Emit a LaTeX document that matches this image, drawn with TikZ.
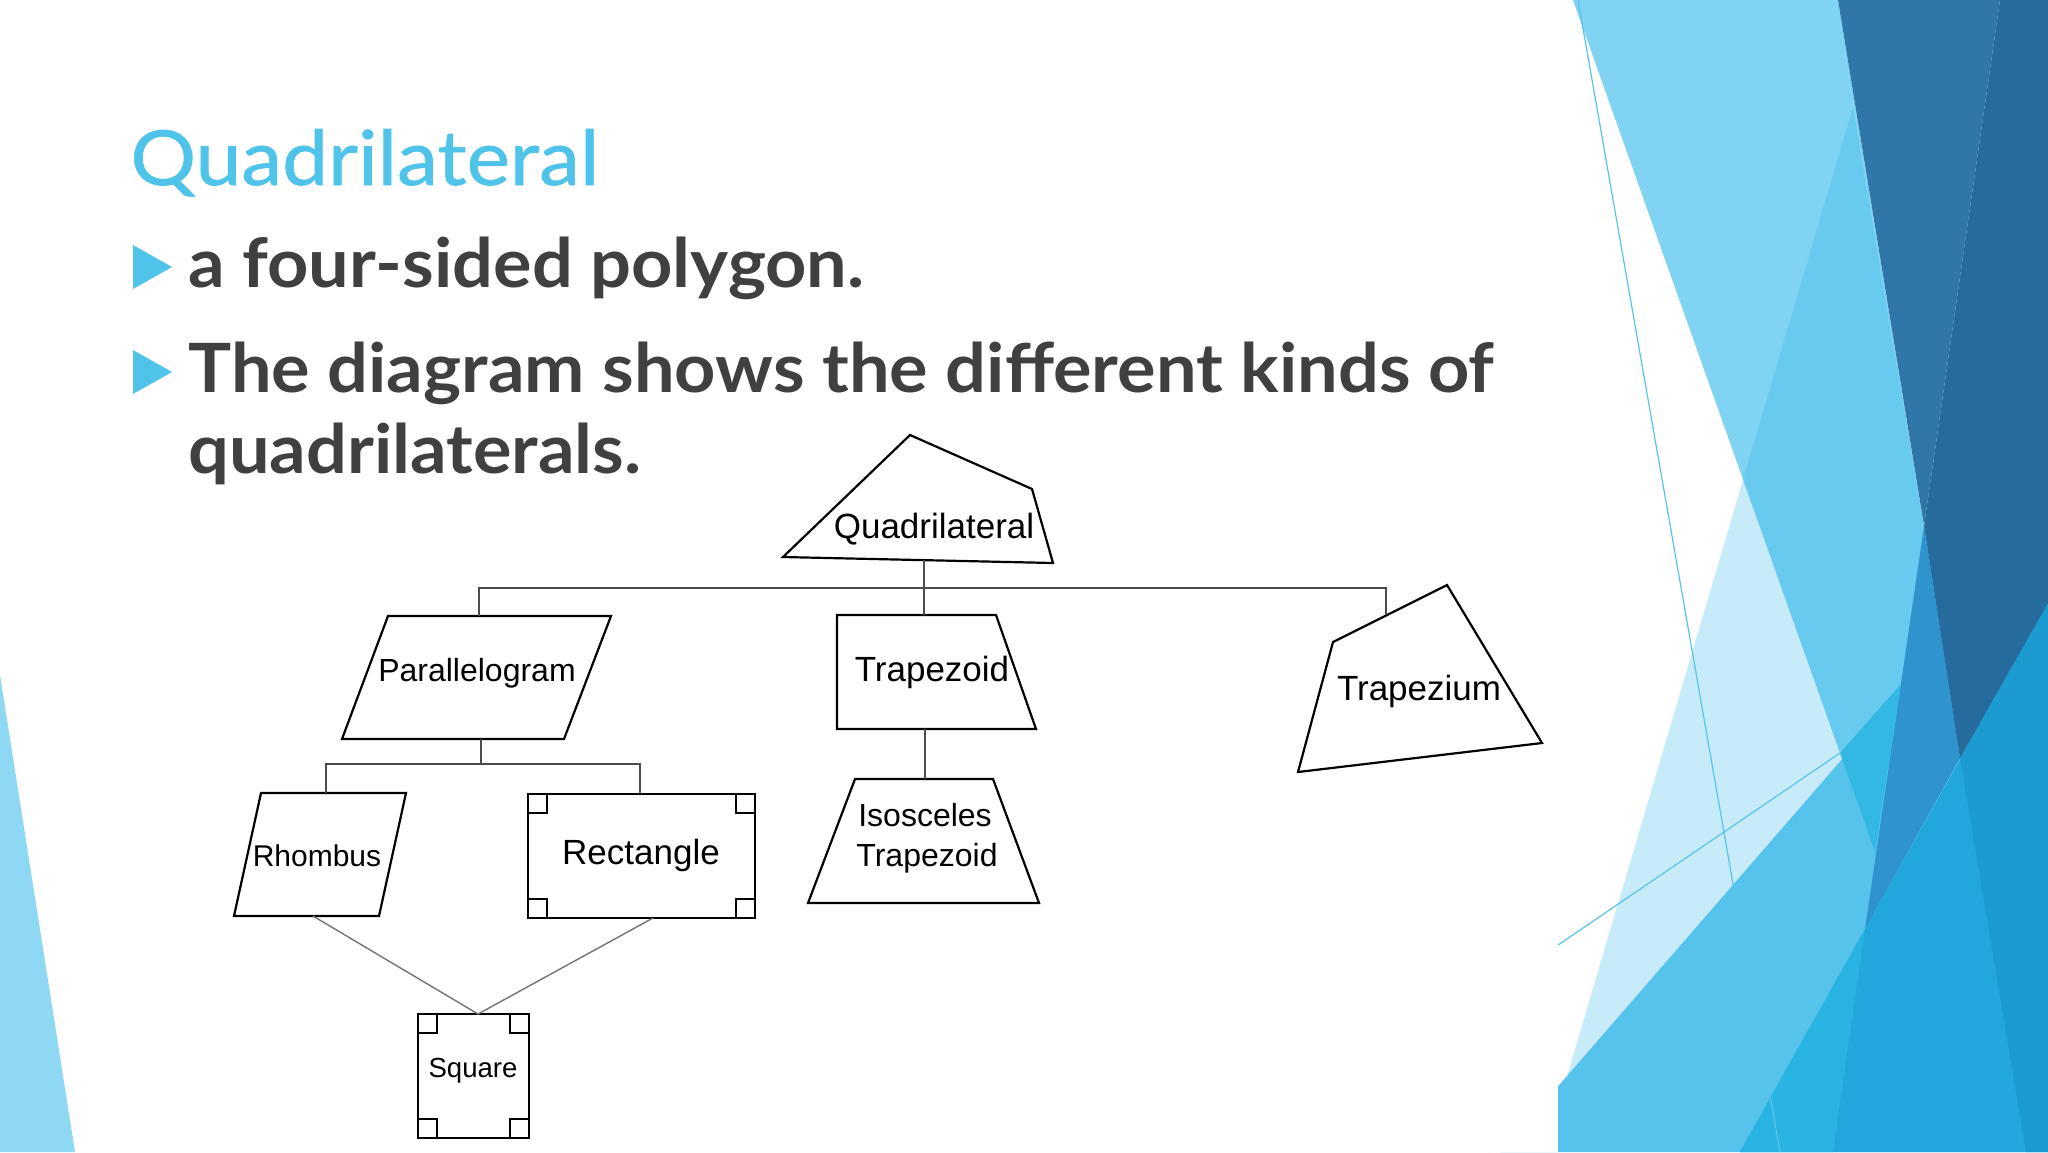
\documentclass[tikz,border=0pt]{standalone}
\usepackage{fontspec}
\setmainfont{Lato}
\newfontfamily\titlefont[FakeStretch=1.08,FakeBold=0.8]{Lato}
\newfontfamily\bodyfont[FakeStretch=1.06]{Lato}
\newfontfamily\diagfont{Liberation Sans}
\definecolor{titleblue}{HTML}{4FC3EA}
\definecolor{bodygray}{HTML}{404040}
\definecolor{facetlight}{HTML}{80D3F2}
\definecolor{facetmid}{HTML}{28B2E8}
\definecolor{facetband}{HTML}{56C3EC}
\definecolor{facetcyan}{HTML}{33B8E4}
\definecolor{facetsteel}{HTML}{2F93CE}
\definecolor{facetsea}{HTML}{21A7DB}
\definecolor{facetsky}{HTML}{28B3E3}
\definecolor{facetdeep}{HTML}{1C9BD1}
\definecolor{facetnavy}{HTML}{266B9E}
\definecolor{facetdark}{HTML}{2F77A8}
\definecolor{facetleft}{HTML}{8ED8F3}
\definecolor{facetline}{HTML}{59C3EB}

\begin{document}
\begin{tikzpicture}[x=0.5pt,y=-0.5pt,
  quadshape/.style={draw=black, line width=1.1pt, fill=white, line join=miter},
  cornerbox/.style={draw=black, line width=1.1pt},
  link/.style={draw=black!70, line width=0.7pt},
  slantlink/.style={draw=black!55, line width=0.7pt},
  lbl/.style={inner sep=0pt, anchor=base},
  bodytext/.style={inner sep=0pt, anchor=base west, text=bodygray, font=\bodyfont\bfseries\fontsize{34}{40}\selectfont}]
\useasboundingbox (0,0) rectangle (2048,1152);

% slide background
\fill[white] (0,0) rectangle (2048,1152);
\fill[facetleft] (0,675) -- (75,1152) -- (0,1152) -- cycle;
\fill[facetlight] (1573,0) -- (1838,0) -- (1943,643) -- (1840,753) -- cycle;
\fill[facetmid, fill opacity=0.26] (1853,107) -- (1943,643) -- (1565,1083) -- cycle;
\fill[facetband] (1501,1152) -- (1943,643) -- (2048,603) -- (2048,1152) -- cycle;
\fill[facetsea] (2048,603) -- (1740,1152) -- (2048,1152) -- cycle;
\fill[facetsky] (1865,929) -- (1740,1152) -- (1833,1152) -- cycle;
\fill[facetdeep] (1960,758) -- (2048,603) -- (2048,1152) -- (2026,1152) -- cycle;
\fill[facetsteel] (1924,526) -- (1960,758) -- (1865,929) -- cycle;
\fill[facetcyan] (1840,753) -- (1901,684) -- (1875,852) -- cycle;
\fill[facetnavy] (2000,0) -- (2048,0) -- (2048,603) -- (1960,758) -- (1924,526) -- cycle;
\fill[facetdark] (1838,0) -- (2000,0) -- (1924,526) -- cycle;
\draw[facetline, line width=0.6pt] (1578,0) -- (1780,1152);
\draw[facetline, line width=0.6pt] (1558,945) -- (1840,753);
\fill[white] (1300,1081) rectangle (1558,1152);

% title and bullets
\node[inner sep=0pt, anchor=base west, text=titleblue, font=\titlefont\fontsize{38}{44}\selectfont] (title) at (130,185) {Quadrilateral};
\fill[titleblue] (133,245) -- (172,267) -- (133,289) -- cycle;
\node[bodytext] (point1) at (188,287) {a four-sided polygon.};
\fill[titleblue] (133,350) -- (172,372) -- (133,394) -- cycle;
\node[bodytext] (point2) at (188,392) {The diagram shows the different kinds of};
\node[bodytext] (point2b) at (188,473) {quadrilaterals.};

% shapes
\draw[quadshape] (910,435) -- (1032,489) -- (1053,563) -- (783,557) -- cycle;
\draw[quadshape] (388,616) -- (611,616) -- (564,739) -- (342,739) -- cycle;
\draw[quadshape] (837,615) -- (996,615) -- (1036,729) -- (837,729) -- cycle;
\draw[quadshape] (1447,585) -- (1542,743) -- (1298,772) -- (1333,642) -- cycle;
\draw[quadshape] (261,793) -- (406,793) -- (379,916) -- (234,916) -- cycle;
\draw[quadshape] (528,794) rectangle (755,918);
\draw[quadshape] (855,779) -- (993,779) -- (1039,903) -- (808,903) -- cycle;
\draw[quadshape] (418,1014) rectangle (529,1138);

% right angle marks
\draw[cornerbox] (528,794) rectangle +(19,19);
\draw[cornerbox] (736,794) rectangle +(19,19);
\draw[cornerbox] (528,899) rectangle +(19,19);
\draw[cornerbox] (736,899) rectangle +(19,19);
\draw[cornerbox] (418,1014) rectangle +(19,19);
\draw[cornerbox] (510,1014) rectangle +(19,19);
\draw[cornerbox] (418,1119) rectangle +(19,19);
\draw[cornerbox] (510,1119) rectangle +(19,19);

% labels
\node[lbl, font=\diagfont\fontsize{17.5}{20}\selectfont] (quad) at (934,538) {Quadrilateral};
\node[lbl, font=\diagfont\fontsize{16}{19}\selectfont] (para) at (477,681) {Parallelogram};
\node[lbl, font=\diagfont\fontsize{17.5}{20}\selectfont] (trap) at (932,681) {Trapezoid};
\node[lbl, font=\diagfont\fontsize{17.5}{20}\selectfont] (trpz) at (1419,700) {Trapezium};
\node[lbl, font=\diagfont\fontsize{15}{18}\selectfont] (rhom) at (317,866) {Rhombus};
\node[lbl, font=\diagfont\fontsize{17.5}{20}\selectfont] (rect) at (641,864) {Rectangle};
\node[lbl, font=\diagfont\fontsize{16}{19}\selectfont] (isos) at (925,826) {Isosceles};
\node[lbl, font=\diagfont\fontsize{16}{19}\selectfont] (isostrap) at (927,866) {Trapezoid};
\node[lbl, font=\diagfont\fontsize{13.8}{16}\selectfont] (sqr) at (473,1077) {Square};

% connection points
\coordinate (quad-s) at (924,560);
\coordinate (bus-m) at (924,588);
\coordinate (bus-l) at (479,588);
\coordinate (bus-r) at (1386,588);
\coordinate (para-n) at (479,616);
\coordinate (trap-n) at (924,615);
\coordinate (trpz-n) at (1386,615);
\coordinate (para-s) at (481,739);
\coordinate (bus2-m) at (481,764);
\coordinate (bus2-l) at (326,764);
\coordinate (bus2-r) at (640,764);
\coordinate (rhom-n) at (326,793);
\coordinate (rect-n) at (640,794);
\coordinate (trap-s) at (925,729);
\coordinate (isos-n) at (925,779);
\coordinate (rhom-s) at (313,916);
\coordinate (rect-s) at (653,918);
\coordinate (sqr-n) at (478,1014);

% connectors
\draw[link] (quad-s) -- (bus-m);
\draw[link] (para-n) -- (bus-l) -- (bus-r) -- (trpz-n);
\draw[link] (bus-m) -- (trap-n);
\draw[link] (para-s) -- (bus2-m);
\draw[link] (rhom-n) -- (bus2-l) -- (bus2-r) -- (rect-n);
\draw[link] (trap-s) -- (isos-n);
\draw[slantlink] (rhom-s) -- (sqr-n) -- (rect-s);
\end{tikzpicture}
\end{document}
